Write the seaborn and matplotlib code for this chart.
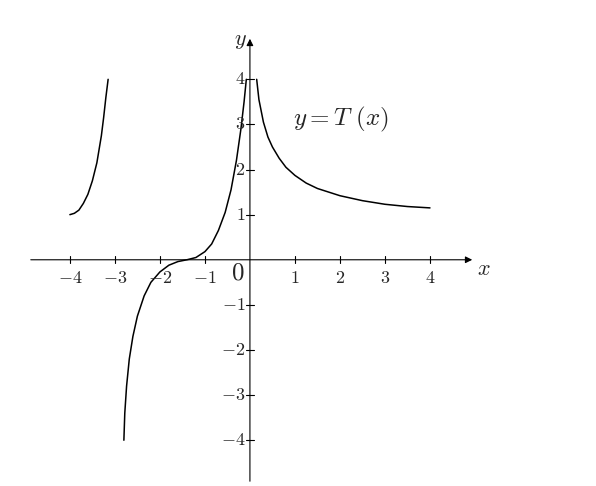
import matplotlib
matplotlib.use("Agg")
import matplotlib.pyplot as plt
import seaborn as sns

sns.set_style("white")
plt.rcParams['mathtext.fontset'] = 'cm'

b1_x = [-4.0, -3.9, -3.8, -3.7, -3.6, -3.5, -3.4, -3.3, -3.25, -3.2, -3.15]
b1_y = [1.0, 1.03, 1.1, 1.25, 1.45, 1.75, 2.15, 2.75, 3.15, 3.6, 4.0]
b2_x = [-2.8, -2.78, -2.74, -2.68, -2.6, -2.5, -2.35, -2.2, -2.0, -1.8, -1.6, -1.4, -1.2, -1.0, -0.85, -0.7, -0.55, -0.42, -0.3, -0.2, -0.13, -0.08]
b2_y = [-4.0, -3.4, -2.8, -2.2, -1.7, -1.25, -0.8, -0.5, -0.27, -0.12, -0.04, 0.0, 0.05, 0.18, 0.35, 0.65, 1.05, 1.55, 2.2, 2.9, 3.5, 4.0]
b3_x = [0.15, 0.2, 0.3, 0.4, 0.5, 0.65, 0.8, 1.0, 1.25, 1.5, 2.0, 2.5, 3.0, 3.5, 4.0]
b3_y = [4.0, 3.55, 3.05, 2.72, 2.5, 2.25, 2.05, 1.87, 1.7, 1.58, 1.42, 1.31, 1.23, 1.18, 1.15]
xticks = [-4, -3, -2, -1, 1, 2, 3, 4]
yticks = [-4, -3, -2, -1, 1, 2, 3, 4]

fig = plt.figure(figsize=(5.96, 4.86), dpi=100)
ax = fig.add_axes([28/596, 2/486, (475-28)/596, 448/486])
ax.set_xlim(-4.93, 5.0)
ax.set_ylim(-4.97, 4.96)
for bx, by in [(b1_x, b1_y), (b2_x, b2_y), (b3_x, b3_y)]:
    sns.lineplot(x=bx, y=by, ax=ax, color='black', lw=1.1, sort=False, estimator=None)
for s in ax.spines.values():
    s.set_visible(False)
ax.set_xticks([]); ax.set_yticks([])
ax.annotate('', xy=(5.0, 0), xytext=(-4.93, 0), arrowprops=dict(arrowstyle='-|>', color='black', lw=0.8), annotation_clip=False)
ax.annotate('', xy=(0, 4.96), xytext=(0, -4.97), arrowprops=dict(arrowstyle='-|>', color='black', lw=0.8), annotation_clip=False)
for t in xticks:
    ax.plot([t, t], [-0.08, 0.08], color='black', lw=0.8)
    ax.text(t, -0.2, f'${t}$', ha='center', va='top', fontsize=13)
for t in yticks:
    ax.plot([-0.08, 0.08], [t, t], color='black', lw=0.8)
    ax.text(-0.1, t, f'${t}$', ha='right', va='center', fontsize=13)
ax.text(-0.28, -0.02, '$0$', ha='center', va='top', fontsize=18)
ax.text(5.2, -0.2, '$x$', ha='center', va='center', fontsize=16)
ax.text(-0.22, 4.85, '$y$', ha='center', va='center', fontsize=16)
ax.text(0.95, 3.1, '$y = T\\ (x)$', ha='left', va='center', fontsize=18)
fig.savefig('out.png', dpi=100)
